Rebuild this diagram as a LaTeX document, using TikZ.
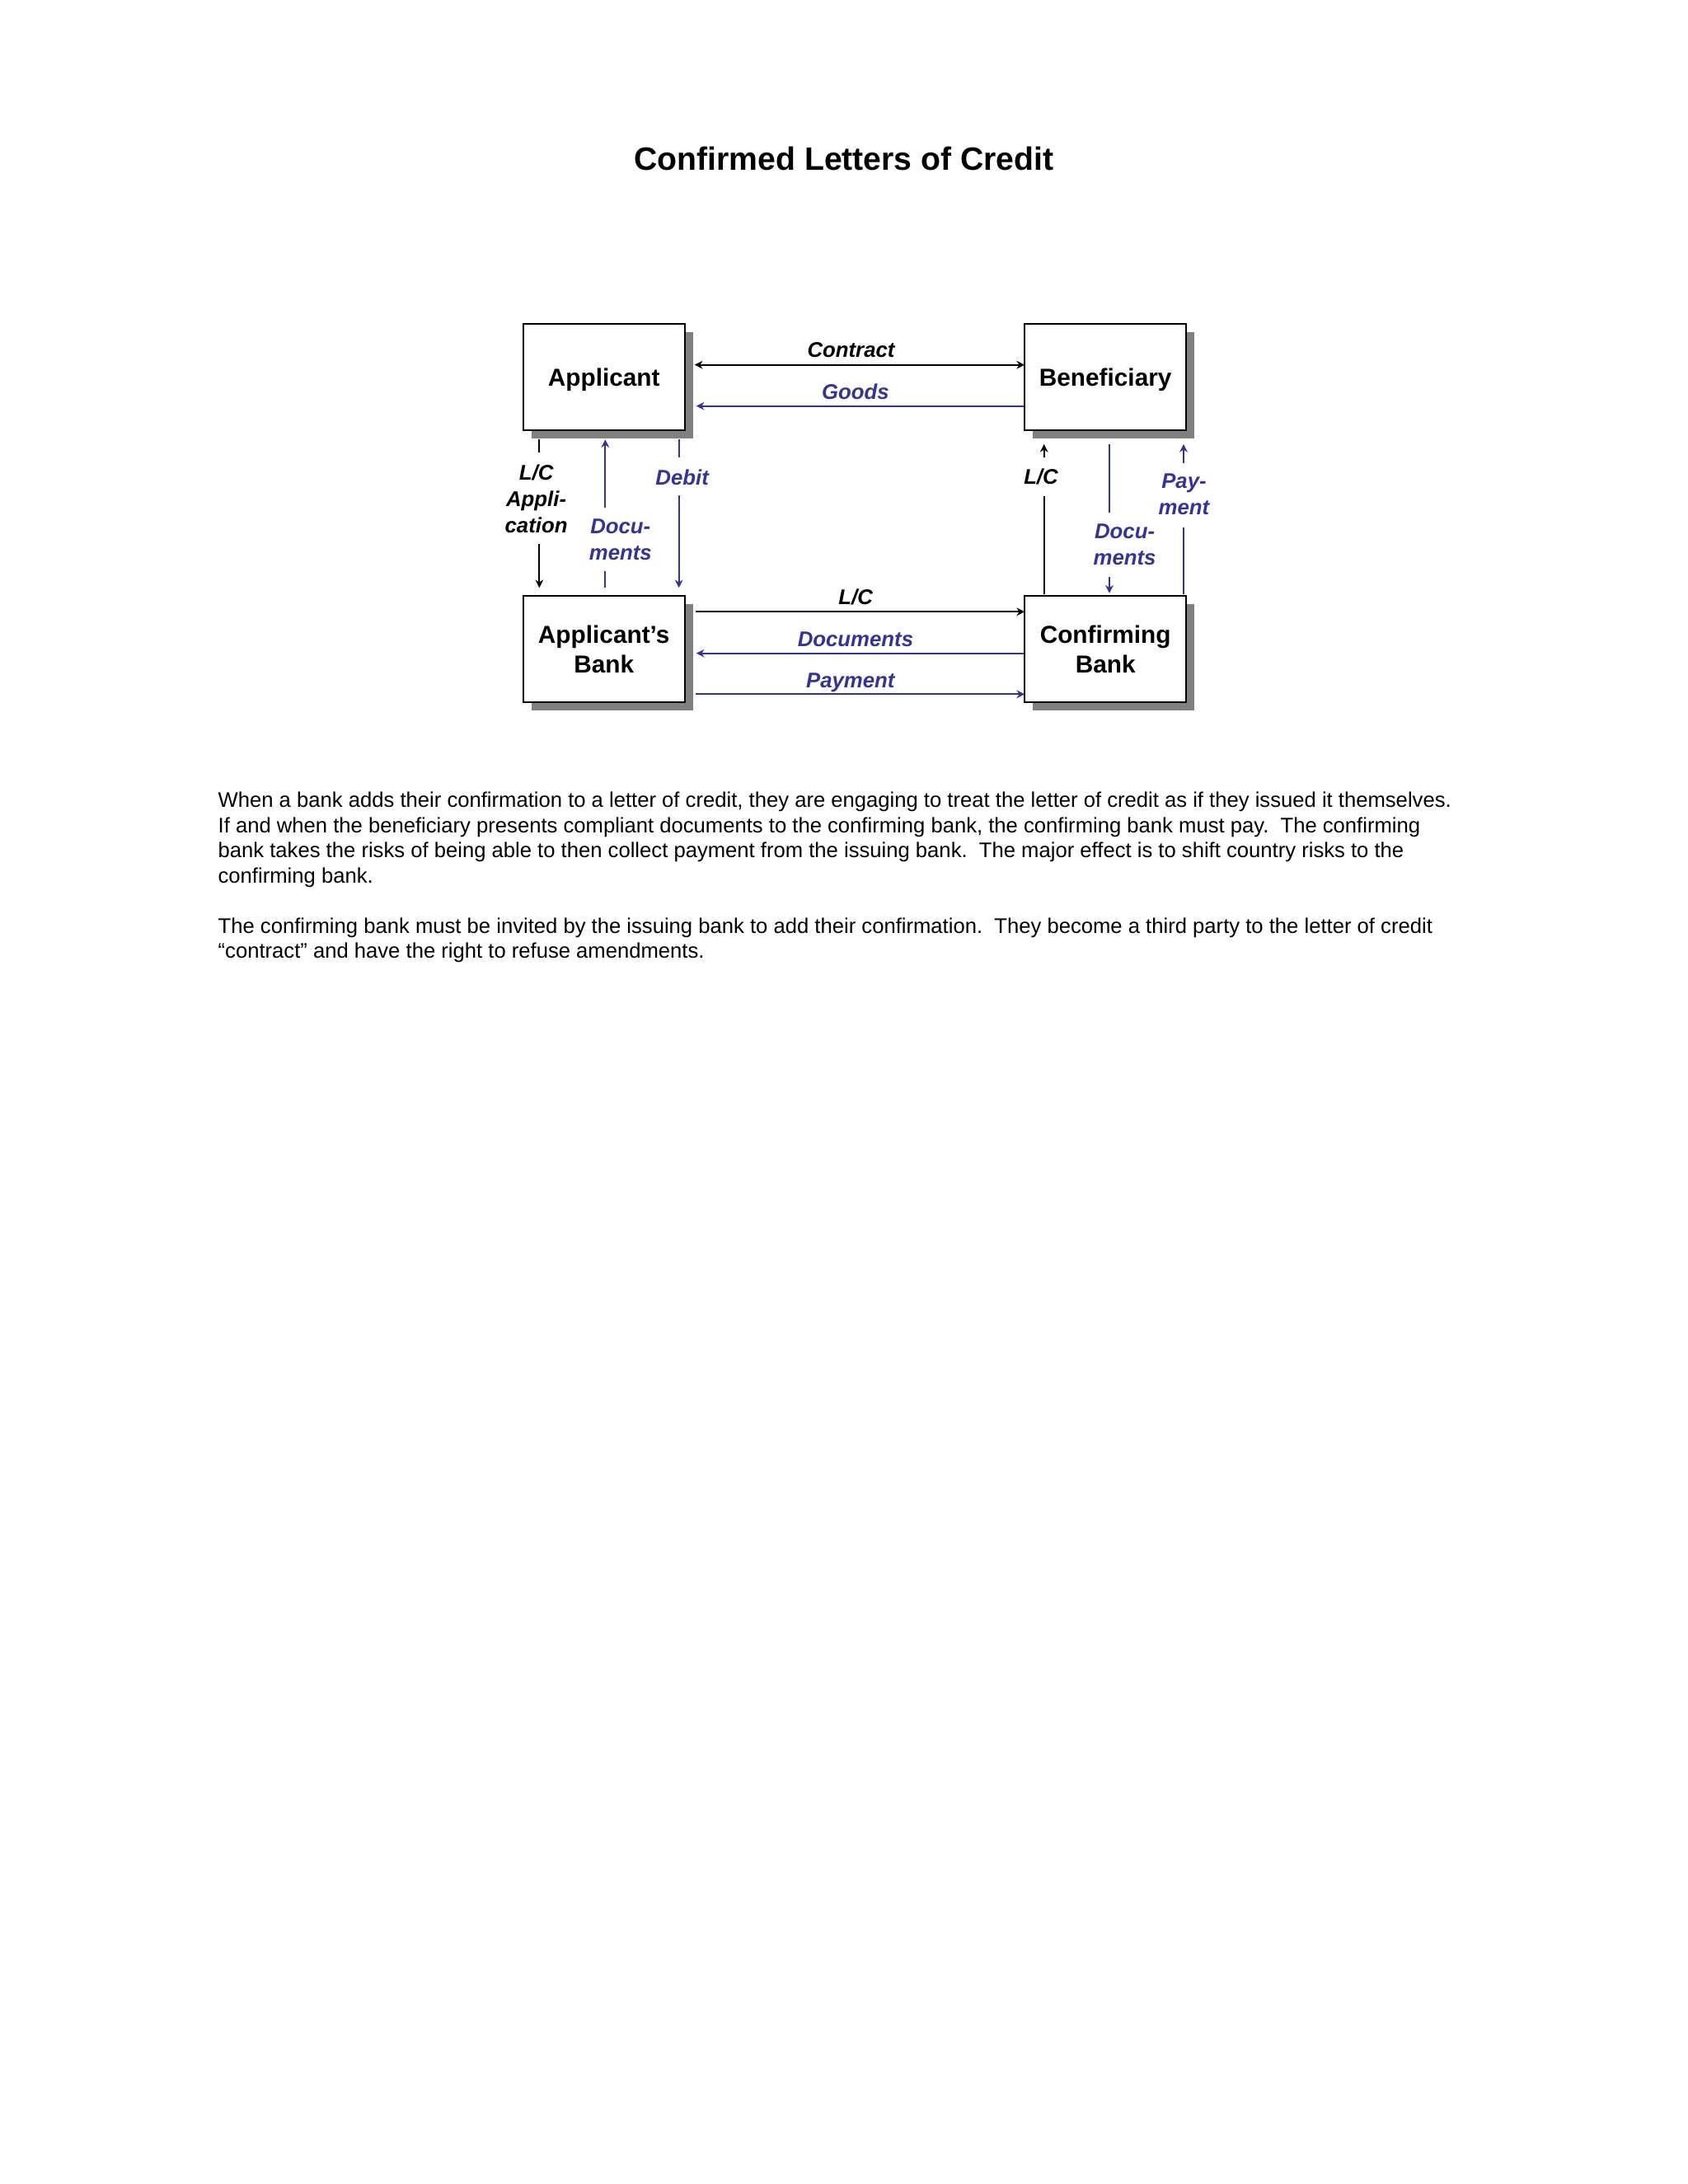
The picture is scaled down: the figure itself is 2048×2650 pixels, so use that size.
\documentclass[tikz,border=0pt]{standalone}
\usepackage{fontspec}
\setmainfont[Ligatures=NoCommon]{Liberation Sans}
\usetikzlibrary{arrows.meta,calc,shadows}

\definecolor{docblue}{RGB}{51,51,153}
\definecolor{shadowgray}{RGB}{128,128,128}

\tikzset{
  party/.style={draw, line width=0.6pt, fill=white, minimum width=58.6pt,
    minimum height=38.7pt, outer sep=0pt, inner sep=1pt, align=center, text depth=0pt,
    font=\bfseries\fontsize{8.9}{10.8}\selectfont,
    general shadow={fill=shadowgray, shadow xshift=3pt, shadow yshift=-3pt}},
  blk/.style={draw=black, line width=0.6pt},
  blu/.style={draw=docblue, line width=0.6pt},
  lbl/.style={font=\bfseries\itshape\fontsize{7.7}{9.6}\selectfont, inner sep=0pt, align=center},
  blulbl/.style={lbl, text=docblue},
  >={Stealth[length=2.9pt,width=2.9pt]}
}

\begin{document}
\begin{tikzpicture}[x=0.2988pt,y=-0.2988pt]
\useasboundingbox (0,0) rectangle (2048,2650);

% Title
\node[font=\bfseries\fontsize{11.7}{14}\selectfont, anchor=base] (title) at (1024,206) {Confirmed Letters of Credit};

% Parties
\node[party] (apl) at (732.7,457.5) {Applicant};
\node[party] (ben) at (1341.2,457.5) {Beneficiary};
\node[party] (abk) at (732.7,787.5) {Applicant’s\\Bank};
\node[party] (cbk) at (1341.2,787.5) {Confirming\\Bank};

% Applicant -- Beneficiary
\draw[blk,<->] ($(apl.east)+(12,-14.8)$) -- ($(ben.west)+(0,-14.8)$)
  node[lbl, pos=0.474, anchor=base, yshift=2.8pt] {Contract};
\draw[blu,<-] ($(apl.east)+(14,35.2)$) -- ($(ben.west)+(0,35.2)$)
  node[blulbl, pos=0.485, anchor=base, yshift=2.6pt] {Goods};

% Applicant's Bank -- Confirming Bank
\draw[blk,->] ($(abk.east)+(13.6,-45.2)$) -- ($(cbk.west)+(0,-45.2)$)
  node[lbl, pos=0.486, anchor=base, yshift=2.5pt] {L/C};
\draw[blu,<-] ($(abk.east)+(14,5.2)$) -- ($(cbk.west)+(0,5.2)$)
  node[blulbl, pos=0.485, anchor=base, yshift=2.4pt] {Documents};
\draw[blu,->] ($(abk.east)+(13.6,54.8)$) -- ($(cbk.west)+(0,54.8)$)
  node[blulbl, pos=0.47, anchor=base, yshift=2.3pt] {Payment};

% Applicant -- Applicant's Bank
\node[lbl] (lcapp) at (650.6,605.1) {L/C\\Appli-\\cation};
\draw[blk, shorten >=4pt] ($(apl.south)+(-78.4,10.4)$) coordinate (a1) -- (a1 |- lcapp.north);
\draw[blk,->, shorten <=3.8pt] (a1 |- lcapp.south) -- ($(abk.north)+(-78.4,-9.6)$);

\node[blulbl] (docl) at (752.8,654.8) {Docu-\\ments};
\draw[blu, shorten >=3.8pt] ($(abk.north)+(1.6,-9.6)$) coordinate (a2) -- (a2 |- docl.south);
\draw[blu,->, shorten <=3.8pt] (a2 |- docl.north) -- ($(apl.south)+(1.6,11)$);

\node[blulbl] (debit) at (827.7,578.9) {Debit};
\draw[blu, shorten >=4pt] ($(apl.south)+(91,10.4)$) coordinate (a3) -- (a3 |- debit.north);
\draw[blu,->, shorten <=3.7pt] (a3 |- debit.south) -- ($(abk.north)+(91,-9.6)$);

% Confirming Bank -- Beneficiary
\node[lbl] (lcben) at (1263,578.9) {L/C};
\draw[blk, shorten >=3.7pt] ($(cbk.north)+(-74.5,-2)$) coordinate (b1) -- (b1 |- lcben.south);
\draw[blk,->, shorten <=4pt] (b1 |- lcben.north) -- ($(ben.south)+(-74.5,16.7)$);

\node[blulbl] (docr) at (1364.6,660.6) {Docu-\\ments};
\draw[blu, shorten >=4pt] ($(ben.south)+(4.8,16.7)$) coordinate (b2) -- (b2 |- docr.north);
\draw[blu,->, shorten <=4pt] (b2 |- docr.south) -- ($(cbk.north)+(4.8,-3)$);

\node[blulbl] (payr) at (1436.5,600) {Pay-\\ment};
\draw[blu, shorten >=4.3pt] ($(cbk.north)+(94.8,-2)$) coordinate (b3) -- (b3 |- payr.south);
\draw[blu,->, shorten <=3.6pt] (b3 |- payr.north) -- ($(ben.south)+(94.8,16.7)$);

% Explanation
\node[anchor=north west, inner sep=0pt, align=left, font=\fontsize{7.66}{9.1}\selectfont] (expl) at (264,960.5)
{When a bank adds their confirmation to a letter of credit, they are engaging to treat the letter of credit as if they issued it themselves.\\
If and when the beneficiary presents compliant documents to the confirming bank, the confirming bank must pay.\ \ The confirming\\
bank takes the risks of being able to then collect payment from the issuing bank.\ \ The major effect is to shift country risks to the\\
confirming bank.\\[9.2pt]
The confirming bank must be invited by the issuing bank to add their confirmation.\ \ They become a third party to the letter of credit\\
“contract” and have the right to refuse amendments.};

\end{tikzpicture}
\end{document}
